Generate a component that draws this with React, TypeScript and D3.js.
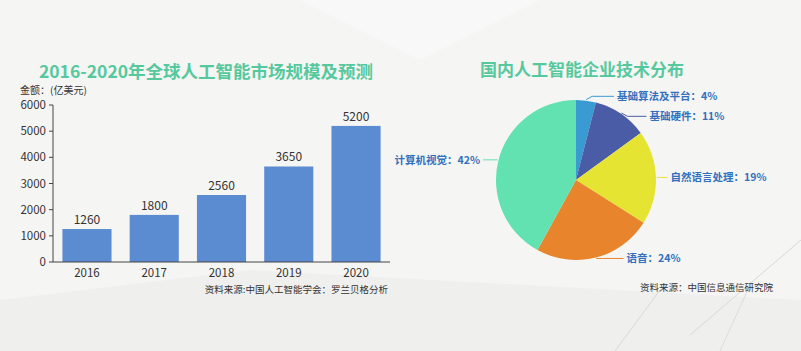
import React from "react";
import * as d3 from "d3";

const years = ["2016", "2017", "2018", "2019", "2020"];
const marketSize = [1260, 1800, 2560, 3650, 5200];
const yTicks = [0, 1000, 2000, 3000, 4000, 5000, 6000];

const techNames = ["基础算法及平台", "基础硬件", "自然语言处理", "语音", "计算机视觉"];
const techShares = [4, 11, 19, 24, 42];
const techColors = ["#3a9ad2", "#4b5ca6", "#e6e433", "#e8842c", "#62e1b1"];

const FONT = "'Noto Sans CJK SC', 'Noto Sans', sans-serif";
const W = 801;
const H = 351;

function BarChart() {
  const x = d3.scaleBand().domain(years).range([53, 390]).paddingInner(0.27).paddingOuter(0.14);
  const y = d3.scaleLinear().domain([0, 6000]).range([262, 105]);
  return (
    <g>
      <text x={206} y={78} fontSize={17.5} fontWeight="bold" fill="#55c99d" textAnchor="middle" fontFamily={FONT}>
        2016-2020年全球人工智能市场规模及预测
      </text>
      <text x={20} y={94} fontSize={10} fill="#333" fontFamily={FONT}>金额：(亿美元)</text>
      {yTicks.map((t) => (
        <g key={t}>
          <line x1={49} x2={53} y1={y(t)} y2={y(t)} stroke="#444" />
          <text x={46} y={y(t) + 4} fontSize={11.5} textAnchor="end" fill="#333" fontFamily={FONT}>{t}</text>
        </g>
      ))}
      <line x1={53} x2={53} y1={y(6000)} y2={y(0)} stroke="#444" />
      {years.map((yr, i) => (
        <g key={yr}>
          <rect x={x(yr)} y={y(marketSize[i])} width={x.bandwidth()} height={y(0) - y(marketSize[i])} fill="#5b8bd0" />
          <text x={(x(yr) as number) + x.bandwidth() / 2} y={y(marketSize[i]) - 5} fontSize={12} textAnchor="middle" fill="#333" fontFamily={FONT}>
            {marketSize[i]}
          </text>
          <text x={(x(yr) as number) + x.bandwidth() / 2} y={277} fontSize={11.5} textAnchor="middle" fill="#333" fontFamily={FONT}>
            {yr}
          </text>
        </g>
      ))}
      <line x1={53} x2={390} y1={y(0)} y2={y(0)} stroke="#444" />
      <text x={388} y={293} fontSize={9.5} textAnchor="end" fill="#333" fontFamily={FONT}>资料来源:中国人工智能学会：罗兰贝格分析</text>
    </g>
  );
}

function PieChart() {
  const cx = 576;
  const cy = 180;
  const r = 80;
  const data = techNames.map((n, i) => ({ name: n, value: techShares[i], color: techColors[i] }));
  const arcs = d3.pie<any>().sort(null).value((d) => d.value)(data);
  const arc = d3.arc<any>().innerRadius(0).outerRadius(r);

  // label anchors, then push apart labels that are too close on the same side
  const labels = arcs.map((a) => {
    const mid = (a.startAngle + a.endAngle) / 2;
    const px = Math.sin(mid) * (r + 1);
    const py = -Math.cos(mid) * (r + 1);
    const right = Math.sin(mid) >= 0;
    const len = 10 + 18 * Math.abs(Math.cos(mid));
    return { a, px, py, right, ex: px + (right ? len : -len), ly: py };
  });
  for (const side of [true, false]) {
    const group = labels.filter((l) => l.right === side).sort((p, q) => p.ly - q.ly);
    for (let i = 1; i < group.length; i++) {
      const gap = group[i].ly - group[i - 1].ly;
      if (gap < 20) {
        const d = (20 - gap) / 2;
        group[i - 1].ly -= d;
        group[i].ly += d;
      }
    }
  }

  return (
    <g>
      <text x={582} y={76} fontSize={17} fontWeight="bold" fill="#55c99d" textAnchor="middle" fontFamily={FONT}>
        国内人工智能企业技术分布
      </text>
      <g transform={`translate(${cx},${cy})`}>
        {arcs.map((a) => (
          <path key={a.data.name} d={arc(a) as string} fill={a.data.color} />
        ))}
        {labels.map((l) => {
          const bend = l.px + (l.right ? 6 : -6);
          return (
            <g key={l.a.data.name + "l"}>
              <polyline
                points={`${l.px},${l.py} ${bend},${l.ly} ${l.ex},${l.ly}`}
                fill="none"
                stroke={l.a.data.color}
                strokeWidth={1}
              />
              <text
                x={l.ex + (l.right ? 3 : -3)}
                y={l.ly + 4}
                fontSize={10.5}
                fontWeight="bold"
                textAnchor={l.right ? "start" : "end"}
                fill="#3270bd"
                fontFamily={FONT}
              >
                {l.a.data.name}：{l.a.data.value}%
              </text>
            </g>
          );
        })}
      </g>
      <text x={773} y={291} fontSize={9.5} textAnchor="end" fill="#333" fontFamily={FONT}>资料来源：中国信息通信研究院</text>
    </g>
  );
}

export default function App() {
  return (
    <svg width={W} height={H} style={{ position: "absolute", left: 0, top: 0, background: "#f5f5f5" }}>
      <rect width={W} height={H} fill="#f5f5f4" />
      <polygon points="0,351 0,300 250,270 801,300 801,351" fill="#efefee" />
      <polygon points="300,0 540,0 420,60" fill="#f8f8f8" />
      <line x1={615} y1={351} x2={660} y2={290} stroke="#d8d8d8" />
      <line x1={690} y1={335} x2={801} y2={240} stroke="#d8d8d8" />
      <line x1={720} y1={351} x2={750} y2={285} stroke="#dcdcdc" />
      <BarChart />
      <PieChart />
    </svg>
  );
}
